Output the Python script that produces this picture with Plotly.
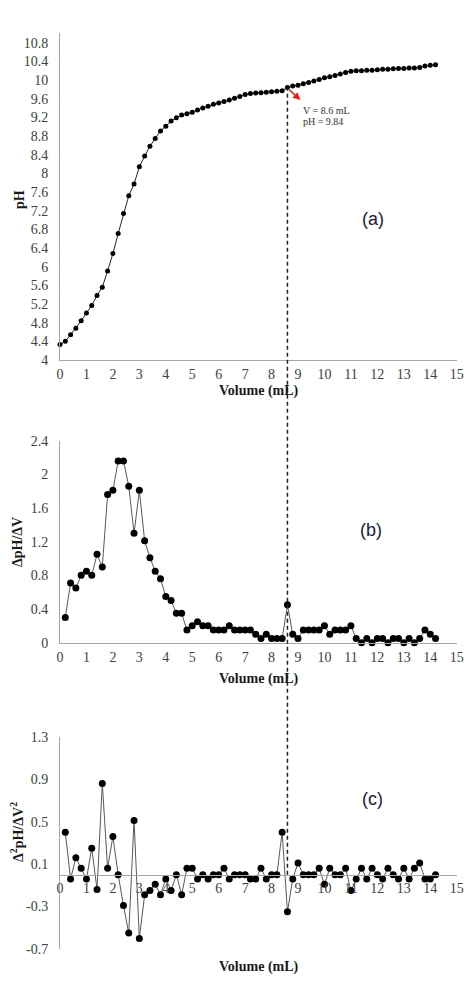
import plotly.graph_objects as go

# ---------------- data ----------------
volume = [0.0, 0.2, 0.4, 0.6, 0.8, 1.0, 1.2, 1.4, 1.6, 1.8,
          2.0, 2.2, 2.4, 2.6, 2.8, 3.0, 3.2, 3.4, 3.6, 3.8,
          4.0, 4.2, 4.4, 4.6, 4.8, 5.0, 5.2, 5.4, 5.6, 5.8,
          6.0, 6.2, 6.4, 6.6, 6.8, 7.0, 7.2, 7.4, 7.6, 7.8,
          8.0, 8.2, 8.4, 8.6, 8.8, 9.0, 9.2, 9.4, 9.6, 9.8,
          10.0, 10.2, 10.4, 10.6, 10.8, 11.0, 11.2, 11.4, 11.6, 11.8,
          12.0, 12.2, 12.4, 12.6, 12.8, 13.0, 13.2, 13.4, 13.6, 13.8,
          14.0, 14.2]

ph = [4.33, 4.40, 4.54, 4.68, 4.84, 5.01, 5.17, 5.38, 5.56, 5.91,
      6.28, 6.71, 7.14, 7.52, 7.77, 8.14, 8.37, 8.58, 8.75, 8.91,
      9.01, 9.12, 9.19, 9.25, 9.28, 9.31, 9.36, 9.40, 9.44, 9.48,
      9.51, 9.54, 9.57, 9.61, 9.65, 9.69, 9.71, 9.72, 9.73, 9.74,
      9.75, 9.76, 9.77, 9.84, 9.87, 9.89, 9.92, 9.95, 9.98, 10.01,
      10.05, 10.07, 10.10, 10.13, 10.16, 10.19, 10.20, 10.20, 10.21, 10.21,
      10.22, 10.23, 10.23, 10.24, 10.25, 10.25, 10.26, 10.26, 10.27, 10.30,
      10.32, 10.33]

# first derivative, V = 0.2 ... 14.2
dph = [0.30, 0.71, 0.65, 0.80, 0.85, 0.80, 1.05, 0.90, 1.76, 1.81,
       2.16, 2.16, 1.86, 1.30, 1.81, 1.21, 1.01, 0.85, 0.76, 0.55,
       0.50, 0.35, 0.35, 0.15, 0.20, 0.25, 0.20, 0.20, 0.15, 0.15,
       0.15, 0.20, 0.15, 0.15, 0.15, 0.15, 0.10, 0.05, 0.10, 0.05,
       0.05, 0.05, 0.45, 0.10, 0.05, 0.15, 0.15, 0.15, 0.15, 0.20,
       0.10, 0.15, 0.15, 0.15, 0.20, 0.05, 0.00, 0.05, 0.00, 0.05,
       0.05, 0.00, 0.05, 0.05, 0.00, 0.05, 0.00, 0.05, 0.15, 0.10,
       0.05]

# second derivative, V = 0.2 ... 14.2
d2ph = [0.40, -0.04, 0.16, 0.06, -0.04, 0.25, -0.14, 0.86, 0.06, 0.36,
        0.00, -0.29, -0.55, 0.51, -0.60, -0.19, -0.15, -0.09, -0.19, -0.04,
        -0.15, 0.00, -0.19, 0.06, 0.06, -0.04, 0.00, -0.04, 0.00, 0.00,
        0.06, -0.04, 0.00, 0.00, 0.00, -0.04, -0.04, 0.06, -0.04, 0.00,
        0.00, 0.40, -0.35, -0.04, 0.11, 0.00, 0.00, 0.00, 0.06, -0.09,
        0.06, 0.00, 0.00, 0.06, -0.15, -0.04, 0.06, -0.04, 0.06, 0.00,
        -0.04, 0.06, 0.00, -0.04, 0.06, -0.04, 0.06, 0.11, -0.04, -0.04,
        0.00]

x_ticks = [0, 1, 2, 3, 4, 5, 6, 7, 8, 9, 10, 11, 12, 13, 14, 15]
x_ticktext = ['0', '1', '2', '3', '4', '5', '6', '7', '8', '9', '10', '11', '12', '13', '14', '15']
ya_ticks = [4, 4.4, 4.8, 5.2, 5.6, 6, 6.4, 6.8, 7.2, 7.6, 8, 8.4, 8.8, 9.2, 9.6, 10, 10.4, 10.8]
ya_ticktext = ['4', '4.4', '4.8', '5.2', '5.6', '6', '6.4', '6.8', '7.2', '7.6', '8', '8.4',
               '8.8', '9.2', '9.6', '10', '10.4', '10.8']
yb_ticks = [0, 0.4, 0.8, 1.2, 1.6, 2.0, 2.4]
yb_ticktext = ['0', '0.4', '0.8', '1.2', '1.6', '2', '2.4']
yc_ticks = [-0.7, -0.3, 0.1, 0.5, 0.9, 1.3]
yc_ticktext = ['-0.7', '-0.3', '0.1', '0.5', '0.9', '1.3']

eq_volume = 8.6
eq_ph = 9.84

# ---------------- layout helpers ----------------
W, H = 474, 983


def py(px):
    return 1 - px / H


XDOM = [60 / W, 456.7 / W]
DOM_A = [py(360), py(33.4)]
DOM_B = [py(642.7), py(440.7)]
DOM_C = [py(949), py(736.7)]
RANGE_A = [4, 11]
RANGE_C = [-0.7, 1.3]

SERIF = "Liberation Serif"
TICKFONT = dict(family=SERIF, size=14, color="#404040")
AXCOL = "#a6a6a6"

fig = go.Figure()
fig.add_trace(go.Scatter(x=volume, y=ph, mode="lines+markers", xaxis="x", yaxis="y",
                         line=dict(color="#262626", width=1),
                         marker=dict(color="black", size=5), cliponaxis=False,
                         showlegend=False))
fig.add_trace(go.Scatter(x=volume[1:], y=dph, mode="lines+markers", xaxis="x2", yaxis="y2",
                         line=dict(color="#595959", width=1),
                         marker=dict(color="black", size=7), cliponaxis=False,
                         showlegend=False))
fig.add_trace(go.Scatter(x=volume[1:], y=d2ph, mode="lines+markers", xaxis="x3", yaxis="y3",
                         line=dict(color="#595959", width=1),
                         marker=dict(color="black", size=7), cliponaxis=False,
                         showlegend=False))


def xax(anchor, **kw):
    d = dict(domain=XDOM, range=[0, 15], anchor=anchor, tickmode="array",
             tickvals=x_ticks, ticktext=x_ticktext, showline=True, linecolor=AXCOL,
             linewidth=1, ticks="outside", ticklen=1, tickcolor="rgba(0,0,0,0)",
             tickfont=TICKFONT, showgrid=False, zeroline=False, automargin=False,
             fixedrange=True)
    d.update(kw)
    return d


def yax(anchor, dom, rng, tv, tt):
    return dict(domain=dom, range=rng, anchor=anchor, tickmode="array", tickvals=tv,
                ticktext=tt, showline=True, linecolor=AXCOL, linewidth=1,
                ticks="outside", ticklen=8, tickcolor="rgba(0,0,0,0)", tickfont=TICKFONT,
                showgrid=False, zeroline=False, automargin=False, fixedrange=True)


pos_c_zero = DOM_C[0] + (0 - RANGE_C[0]) / (RANGE_C[1] - RANGE_C[0]) * (DOM_C[1] - DOM_C[0])
pos_a_eq = DOM_A[0] + (eq_ph - RANGE_A[0]) / (RANGE_A[1] - RANGE_A[0]) * (DOM_A[1] - DOM_A[0])

fig.update_layout(
    width=W, height=H, margin=dict(l=0, r=0, t=0, b=0),
    paper_bgcolor="white", plot_bgcolor="white", showlegend=False,
    xaxis=xax("y"),
    yaxis=yax("x", DOM_A, RANGE_A, ya_ticks, ya_ticktext),
    xaxis2=xax("y2"),
    yaxis2=yax("x2", DOM_B, [0, 2.4], yb_ticks, yb_ticktext),
    xaxis3=xax("free", position=pos_c_zero),
    yaxis3=yax("x3", DOM_C, RANGE_C, yc_ticks, yc_ticktext),
)

# dashed vertical line at equivalence point
fig.add_shape(type="line", xref="x", yref="paper", x0=eq_volume, x1=eq_volume,
              y0=pos_c_zero, y1=pos_a_eq,
              line=dict(color="#222222", width=1.5, dash="4px,3px"))

ann = []
# red arrow
ann.append(dict(x=9.09, y=9.57, xref="x", yref="y", ax=eq_volume + 0.02, ay=eq_ph - 0.02,
                axref="x", ayref="y", text="", showarrow=True, arrowhead=2, arrowsize=1,
                arrowwidth=1.5, arrowcolor="#e3201b"))
ann.append(dict(x=300.7 / W, y=py(111), xref="paper", yref="paper", xanchor="left",
                yanchor="middle", text="V = 8.6 mL", showarrow=False,
                font=dict(family=SERIF, size=10, color="#333333")))
ann.append(dict(x=300.7 / W, y=py(121.7), xref="paper", yref="paper", xanchor="left",
                yanchor="middle", text="pH = 9.84", showarrow=False,
                font=dict(family=SERIF, size=10, color="#333333")))

TITLEFONT = dict(family=SERIF, size=14, color="#1a1a1a")
for yy in (391, 679, 967):
    ann.append(dict(x=259 / W, y=py(yy), xref="paper", yref="paper", xanchor="center",
                    yanchor="middle", text="<b>Volume (mL)</b>", showarrow=False,
                    font=TITLEFONT))
for txt, xx, yy in (("pH", 19, 200), ("ΔpH/ΔV", 17, 542), ("Δ<sup>2</sup>pH/ΔV<sup>2</sup>", 17, 832)):
    ann.append(dict(x=xx / W, y=py(yy), xref="paper", yref="paper", xanchor="center",
                    yanchor="middle", text="<b>" + txt + "</b>", textangle=-90,
                    showarrow=False, font=TITLEFONT))

LABFONT = dict(family="Liberation Sans", size=18, color="#1a1a3a")
for txt, xx, yy in (("(a)", 373, 219), ("(b)", 371, 530), ("(c)", 372, 799)):
    ann.append(dict(x=xx / W, y=py(yy), xref="paper", yref="paper", xanchor="center",
                    yanchor="middle", text=txt, showarrow=False, font=LABFONT))

fig.update_layout(annotations=ann)

fig.write_html("out.html")
